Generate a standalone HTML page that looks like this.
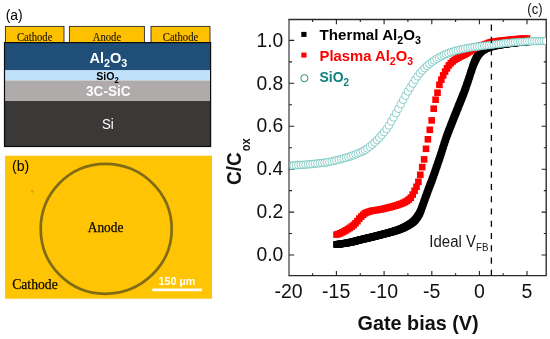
<!DOCTYPE html>
<html lang="en"><head><meta charset="utf-8"><title>MOS capacitor C-V figure</title>
<style>html,body{margin:0;padding:0;background:#fff}body{width:550px;height:339px;overflow:hidden}svg{display:block}.sans{font-family:"Liberation Sans",sans-serif}.serif{font-family:"Liberation Serif",serif}</style></head><body>
<svg width="550" height="339" viewBox="0 0 550 339">
<rect width="550" height="339" fill="#fff"/>
<g id="panel-a">
<text class="sans" x="5.7" y="20.2" font-size="14.6" fill="#000" textLength="17" lengthAdjust="spacingAndGlyphs">(a)</text>
<rect x="5.4" y="26.4" width="58.6" height="16.4" fill="#FFC000" stroke="#2a2a2a" stroke-width="0.9"/>
<text class="serif" x="17.0" y="40.6" font-size="11.6" fill="#1f1800" stroke="#1f1800" stroke-width="0.15" textLength="35.4" lengthAdjust="spacingAndGlyphs">Cathode</text>
<rect x="69.4" y="26.4" width="75.0" height="16.4" fill="#FFC000" stroke="#2a2a2a" stroke-width="0.9"/>
<text class="serif" x="92.8" y="40.6" font-size="11.6" fill="#1f1800" stroke="#1f1800" stroke-width="0.15" textLength="28.3" lengthAdjust="spacingAndGlyphs">Anode</text>
<rect x="151" y="26.4" width="59.0" height="16.4" fill="#FFC000" stroke="#2a2a2a" stroke-width="0.9"/>
<text class="serif" x="162.8" y="40.6" font-size="11.6" fill="#1f1800" stroke="#1f1800" stroke-width="0.15" textLength="35.4" lengthAdjust="spacingAndGlyphs">Cathode</text>
<rect x="4.4" y="42.6" width="206.2" height="27.8" fill="#1F4E79"/>
<rect x="4.4" y="70.3" width="206.2" height="10.2" fill="#C0E1FA"/>
<rect x="4.4" y="80.5" width="206.2" height="21" fill="#AFABAB"/>
<rect x="4.4" y="101" width="206.2" height="45.5" fill="#3B3838"/>
<rect x="4.5" y="42.6" width="206.1" height="103.9" fill="none" stroke="#0c0c0c" stroke-width="1.2"/>
<text class="sans" x="89.4" y="63.3" font-size="14.6" font-weight="bold" fill="#fff" textLength="37.8" lengthAdjust="spacingAndGlyphs">Al<tspan font-size="10.7" dy="4.1">2</tspan><tspan dy="-4.1">O</tspan><tspan font-size="10.7" dy="4.1">3</tspan></text>
<text class="sans" x="96.2" y="79.7" font-size="11.2" font-weight="bold" fill="#000" textLength="22.6" lengthAdjust="spacingAndGlyphs">SiO<tspan font-size="8.2" dy="3">2</tspan></text>
<text class="sans" x="86" y="96.3" font-size="15.2" font-weight="bold" fill="#fbfbfb" textLength="44.6" lengthAdjust="spacingAndGlyphs">3C-SiC</text>
<text class="sans" x="102" y="129.1" font-size="14.8" fill="#fff" textLength="11.8" lengthAdjust="spacingAndGlyphs">Si</text>
</g>
<g id="panel-b">
<rect x="5.1" y="155.7" width="206.9" height="143" fill="#FFC403"/>
<circle cx="32.4" cy="191.4" r="1.3" fill="#b58a10" opacity="0.55"/><path d="M40.7 229A64.6 65.1 0 0 1 105.3 163.9A66.4 65.1 0 0 1 171.7 229A66.8 64.8 0 0 1 104.9 293.8A64.2 64.8 0 0 1 40.7 229Z" fill="none" stroke="#806c14" stroke-width="2.7"/>
<text class="sans" x="12.1" y="170.6" font-size="14.6" fill="#000" textLength="17.2" lengthAdjust="spacingAndGlyphs">(b)</text>
<text class="serif" x="87.8" y="232.1" font-size="13.9" fill="#0a0800" stroke="#0a0800" stroke-width="0.25" textLength="35.6" lengthAdjust="spacingAndGlyphs">Anode</text>
<text class="serif" x="12.2" y="288.8" font-size="14" fill="#0a0800" stroke="#0a0800" stroke-width="0.25" textLength="45.5" lengthAdjust="spacingAndGlyphs">Cathode</text>
<rect x="152.3" y="288.5" width="49.6" height="2.7" fill="#fff"/>
<text class="sans" x="158.6" y="284.5" font-size="10.6" font-weight="bold" fill="#fff" textLength="36.6" lengthAdjust="spacingAndGlyphs">150 µm</text>
</g>
<g id="panel-c">
<text class="sans" x="527.3" y="13.5" font-size="14.4" fill="#111" textLength="15.2" lengthAdjust="spacingAndGlyphs">(c)</text>
<path d="M288.4 19.5H546.9M288.4 275.6H546.9M546.2 19.5V275.6" fill="none" stroke="#2a2a2a" stroke-width="1.35"/><path d="M289 19.5V275.6" fill="none" stroke="#3a3a3a" stroke-width="1.2"/>
<path d="M312.6 275.6v-2.4M312.6 19.6v2.4M336.4 275.6v-4.6M336.4 19.6v4.6M360.3 275.6v-2.4M360.3 19.6v2.4M384.1 275.6v-4.6M384.1 19.6v4.6M407.9 275.6v-2.4M407.9 19.6v2.4M431.8 275.6v-4.6M431.8 19.6v4.6M455.6 275.6v-2.4M455.6 19.6v2.4M479.4 275.6v-4.6M479.4 19.6v4.6M503.2 275.6v-2.4M503.2 19.6v2.4M527.0 275.6v-4.6M527.0 19.6v4.6M289.1 255.0h5.1M546.2 255.0h-4.6M289.1 233.5h2.9M546.2 233.5h-2.4M289.1 212.1h5.1M546.2 212.1h-4.6M289.1 190.6h2.9M546.2 190.6h-2.4M289.1 169.2h5.1M546.2 169.2h-4.6M289.1 147.7h2.9M546.2 147.7h-2.4M289.1 126.2h5.1M546.2 126.2h-4.6M289.1 104.8h2.9M546.2 104.8h-2.4M289.1 83.3h5.1M546.2 83.3h-4.6M289.1 61.9h2.9M546.2 61.9h-2.4M289.1 40.4h5.1M546.2 40.4h-4.6" stroke="#222" stroke-width="1.1" fill="none"/>
<clipPath id="plotclip"><rect x="289.9" y="20" width="256" height="255.4"/></clipPath>
<g clip-path="url(#plotclip)">
<g fill="#000">
<rect x="333.2" y="241.1" width="6.6" height="6.6"/>
<rect x="333.6" y="241.1" width="6.6" height="6.6"/>
<rect x="334.1" y="241.0" width="6.6" height="6.6"/>
<rect x="334.6" y="241.0" width="6.6" height="6.6"/>
<rect x="335.1" y="240.9" width="6.6" height="6.6"/>
<rect x="335.5" y="240.9" width="6.6" height="6.6"/>
<rect x="336.0" y="240.8" width="6.6" height="6.6"/>
<rect x="336.5" y="240.8" width="6.6" height="6.6"/>
<rect x="337.0" y="240.7" width="6.6" height="6.6"/>
<rect x="337.4" y="240.6" width="6.6" height="6.6"/>
<rect x="337.9" y="240.6" width="6.6" height="6.6"/>
<rect x="338.4" y="240.5" width="6.6" height="6.6"/>
<rect x="338.9" y="240.4" width="6.6" height="6.6"/>
<rect x="339.3" y="240.4" width="6.6" height="6.6"/>
<rect x="339.8" y="240.3" width="6.6" height="6.6"/>
<rect x="340.3" y="240.2" width="6.6" height="6.6"/>
<rect x="340.8" y="240.2" width="6.6" height="6.6"/>
<rect x="341.3" y="240.1" width="6.6" height="6.6"/>
<rect x="341.7" y="240.0" width="6.6" height="6.6"/>
<rect x="342.2" y="239.9" width="6.6" height="6.6"/>
<rect x="342.7" y="239.8" width="6.6" height="6.6"/>
<rect x="343.2" y="239.8" width="6.6" height="6.6"/>
<rect x="343.6" y="239.7" width="6.6" height="6.6"/>
<rect x="344.1" y="239.6" width="6.6" height="6.6"/>
<rect x="344.6" y="239.5" width="6.6" height="6.6"/>
<rect x="345.1" y="239.4" width="6.6" height="6.6"/>
<rect x="345.5" y="239.3" width="6.6" height="6.6"/>
<rect x="346.0" y="239.3" width="6.6" height="6.6"/>
<rect x="346.5" y="239.2" width="6.6" height="6.6"/>
<rect x="347.0" y="239.0" width="6.6" height="6.6"/>
<rect x="347.4" y="238.9" width="6.6" height="6.6"/>
<rect x="347.9" y="238.8" width="6.6" height="6.6"/>
<rect x="348.4" y="238.7" width="6.6" height="6.6"/>
<rect x="348.9" y="238.6" width="6.6" height="6.6"/>
<rect x="349.4" y="238.5" width="6.6" height="6.6"/>
<rect x="349.8" y="238.4" width="6.6" height="6.6"/>
<rect x="350.3" y="238.3" width="6.6" height="6.6"/>
<rect x="350.8" y="238.1" width="6.6" height="6.6"/>
<rect x="351.3" y="238.0" width="6.6" height="6.6"/>
<rect x="351.7" y="237.9" width="6.6" height="6.6"/>
<rect x="352.2" y="237.8" width="6.6" height="6.6"/>
<rect x="352.7" y="237.6" width="6.6" height="6.6"/>
<rect x="353.2" y="237.5" width="6.6" height="6.6"/>
<rect x="353.6" y="237.4" width="6.6" height="6.6"/>
<rect x="354.1" y="237.3" width="6.6" height="6.6"/>
<rect x="354.6" y="237.1" width="6.6" height="6.6"/>
<rect x="355.1" y="237.0" width="6.6" height="6.6"/>
<rect x="355.5" y="236.9" width="6.6" height="6.6"/>
<rect x="356.0" y="236.8" width="6.6" height="6.6"/>
<rect x="356.5" y="236.6" width="6.6" height="6.6"/>
<rect x="357.0" y="236.5" width="6.6" height="6.6"/>
<rect x="357.5" y="236.4" width="6.6" height="6.6"/>
<rect x="357.9" y="236.3" width="6.6" height="6.6"/>
<rect x="358.4" y="236.2" width="6.6" height="6.6"/>
<rect x="358.9" y="236.1" width="6.6" height="6.6"/>
<rect x="359.4" y="236.0" width="6.6" height="6.6"/>
<rect x="359.8" y="235.8" width="6.6" height="6.6"/>
<rect x="360.3" y="235.7" width="6.6" height="6.6"/>
<rect x="360.8" y="235.6" width="6.6" height="6.6"/>
<rect x="361.3" y="235.5" width="6.6" height="6.6"/>
<rect x="361.7" y="235.4" width="6.6" height="6.6"/>
<rect x="362.2" y="235.3" width="6.6" height="6.6"/>
<rect x="362.7" y="235.2" width="6.6" height="6.6"/>
<rect x="363.2" y="235.1" width="6.6" height="6.6"/>
<rect x="363.6" y="234.9" width="6.6" height="6.6"/>
<rect x="364.1" y="234.8" width="6.6" height="6.6"/>
<rect x="364.6" y="234.7" width="6.6" height="6.6"/>
<rect x="365.1" y="234.6" width="6.6" height="6.6"/>
<rect x="365.6" y="234.5" width="6.6" height="6.6"/>
<rect x="366.0" y="234.4" width="6.6" height="6.6"/>
<rect x="366.5" y="234.3" width="6.6" height="6.6"/>
<rect x="367.0" y="234.1" width="6.6" height="6.6"/>
<rect x="367.5" y="234.0" width="6.6" height="6.6"/>
<rect x="367.9" y="233.9" width="6.6" height="6.6"/>
<rect x="368.4" y="233.8" width="6.6" height="6.6"/>
<rect x="368.9" y="233.7" width="6.6" height="6.6"/>
<rect x="369.4" y="233.6" width="6.6" height="6.6"/>
<rect x="369.8" y="233.4" width="6.6" height="6.6"/>
<rect x="370.3" y="233.3" width="6.6" height="6.6"/>
<rect x="370.8" y="233.2" width="6.6" height="6.6"/>
<rect x="371.3" y="233.1" width="6.6" height="6.6"/>
<rect x="371.7" y="233.0" width="6.6" height="6.6"/>
<rect x="372.2" y="232.9" width="6.6" height="6.6"/>
<rect x="372.7" y="232.7" width="6.6" height="6.6"/>
<rect x="373.2" y="232.6" width="6.6" height="6.6"/>
<rect x="373.7" y="232.5" width="6.6" height="6.6"/>
<rect x="374.1" y="232.4" width="6.6" height="6.6"/>
<rect x="374.6" y="232.2" width="6.6" height="6.6"/>
<rect x="375.1" y="232.1" width="6.6" height="6.6"/>
<rect x="375.6" y="232.0" width="6.6" height="6.6"/>
<rect x="376.0" y="231.9" width="6.6" height="6.6"/>
<rect x="376.5" y="231.8" width="6.6" height="6.6"/>
<rect x="377.0" y="231.6" width="6.6" height="6.6"/>
<rect x="377.5" y="231.5" width="6.6" height="6.6"/>
<rect x="377.9" y="231.4" width="6.6" height="6.6"/>
<rect x="378.4" y="231.2" width="6.6" height="6.6"/>
<rect x="378.9" y="231.1" width="6.6" height="6.6"/>
<rect x="379.4" y="231.0" width="6.6" height="6.6"/>
<rect x="379.8" y="230.9" width="6.6" height="6.6"/>
<rect x="380.3" y="230.8" width="6.6" height="6.6"/>
<rect x="380.8" y="230.6" width="6.6" height="6.6"/>
<rect x="381.3" y="230.5" width="6.6" height="6.6"/>
<rect x="381.8" y="230.4" width="6.6" height="6.6"/>
<rect x="382.2" y="230.3" width="6.6" height="6.6"/>
<rect x="382.7" y="230.1" width="6.6" height="6.6"/>
<rect x="383.2" y="230.0" width="6.6" height="6.6"/>
<rect x="383.7" y="229.9" width="6.6" height="6.6"/>
<rect x="384.1" y="229.8" width="6.6" height="6.6"/>
<rect x="384.6" y="229.6" width="6.6" height="6.6"/>
<rect x="385.1" y="229.5" width="6.6" height="6.6"/>
<rect x="385.6" y="229.4" width="6.6" height="6.6"/>
<rect x="386.0" y="229.3" width="6.6" height="6.6"/>
<rect x="386.5" y="229.1" width="6.6" height="6.6"/>
<rect x="387.0" y="229.0" width="6.6" height="6.6"/>
<rect x="387.5" y="228.9" width="6.6" height="6.6"/>
<rect x="387.9" y="228.7" width="6.6" height="6.6"/>
<rect x="388.4" y="228.6" width="6.6" height="6.6"/>
<rect x="388.9" y="228.5" width="6.6" height="6.6"/>
<rect x="389.4" y="228.3" width="6.6" height="6.6"/>
<rect x="389.9" y="228.2" width="6.6" height="6.6"/>
<rect x="390.3" y="228.0" width="6.6" height="6.6"/>
<rect x="390.8" y="227.9" width="6.6" height="6.6"/>
<rect x="391.3" y="227.7" width="6.6" height="6.6"/>
<rect x="391.8" y="227.6" width="6.6" height="6.6"/>
<rect x="392.2" y="227.4" width="6.6" height="6.6"/>
<rect x="392.7" y="227.3" width="6.6" height="6.6"/>
<rect x="393.2" y="227.1" width="6.6" height="6.6"/>
<rect x="393.7" y="227.0" width="6.6" height="6.6"/>
<rect x="394.1" y="226.8" width="6.6" height="6.6"/>
<rect x="394.6" y="226.7" width="6.6" height="6.6"/>
<rect x="395.1" y="226.5" width="6.6" height="6.6"/>
<rect x="395.6" y="226.3" width="6.6" height="6.6"/>
<rect x="396.0" y="226.1" width="6.6" height="6.6"/>
<rect x="396.5" y="226.0" width="6.6" height="6.6"/>
<rect x="397.0" y="225.8" width="6.6" height="6.6"/>
<rect x="397.5" y="225.6" width="6.6" height="6.6"/>
<rect x="398.0" y="225.4" width="6.6" height="6.6"/>
<rect x="398.4" y="225.2" width="6.6" height="6.6"/>
<rect x="398.9" y="225.0" width="6.6" height="6.6"/>
<rect x="399.4" y="224.8" width="6.6" height="6.6"/>
<rect x="399.9" y="224.6" width="6.6" height="6.6"/>
<rect x="400.3" y="224.3" width="6.6" height="6.6"/>
<rect x="400.8" y="224.1" width="6.6" height="6.6"/>
<rect x="401.3" y="223.9" width="6.6" height="6.6"/>
<rect x="401.8" y="223.6" width="6.6" height="6.6"/>
<rect x="402.2" y="223.4" width="6.6" height="6.6"/>
<rect x="402.7" y="223.1" width="6.6" height="6.6"/>
<rect x="403.2" y="222.9" width="6.6" height="6.6"/>
<rect x="403.7" y="222.6" width="6.6" height="6.6"/>
<rect x="404.1" y="222.3" width="6.6" height="6.6"/>
<rect x="404.6" y="222.1" width="6.6" height="6.6"/>
<rect x="405.1" y="221.8" width="6.6" height="6.6"/>
<rect x="405.6" y="221.5" width="6.6" height="6.6"/>
<rect x="406.1" y="221.2" width="6.6" height="6.6"/>
<rect x="406.5" y="220.9" width="6.6" height="6.6"/>
<rect x="407.0" y="220.6" width="6.6" height="6.6"/>
<rect x="407.5" y="220.3" width="6.6" height="6.6"/>
<rect x="408.0" y="220.0" width="6.6" height="6.6"/>
<rect x="408.4" y="219.6" width="6.6" height="6.6"/>
<rect x="408.9" y="219.3" width="6.6" height="6.6"/>
<rect x="409.4" y="218.9" width="6.6" height="6.6"/>
<rect x="409.9" y="218.5" width="6.6" height="6.6"/>
<rect x="410.3" y="218.1" width="6.6" height="6.6"/>
<rect x="410.8" y="217.7" width="6.6" height="6.6"/>
<rect x="411.3" y="217.2" width="6.6" height="6.6"/>
<rect x="411.8" y="216.7" width="6.6" height="6.6"/>
<rect x="412.2" y="216.1" width="6.6" height="6.6"/>
<rect x="412.7" y="215.5" width="6.6" height="6.6"/>
<rect x="413.2" y="214.8" width="6.6" height="6.6"/>
<rect x="413.7" y="214.2" width="6.6" height="6.6"/>
<rect x="414.2" y="213.5" width="6.6" height="6.6"/>
<rect x="414.6" y="212.8" width="6.6" height="6.6"/>
<rect x="415.1" y="212.0" width="6.6" height="6.6"/>
<rect x="415.6" y="211.3" width="6.6" height="6.6"/>
<rect x="416.1" y="210.4" width="6.6" height="6.6"/>
<rect x="416.5" y="209.5" width="6.6" height="6.6"/>
<rect x="417.0" y="208.5" width="6.6" height="6.6"/>
<rect x="417.5" y="207.3" width="6.6" height="6.6"/>
<rect x="418.0" y="206.0" width="6.6" height="6.6"/>
<rect x="418.4" y="204.7" width="6.6" height="6.6"/>
<rect x="418.9" y="203.4" width="6.6" height="6.6"/>
<rect x="419.4" y="202.1" width="6.6" height="6.6"/>
<rect x="419.9" y="200.8" width="6.6" height="6.6"/>
<rect x="420.3" y="199.4" width="6.6" height="6.6"/>
<rect x="420.8" y="198.0" width="6.6" height="6.6"/>
<rect x="421.3" y="196.7" width="6.6" height="6.6"/>
<rect x="421.8" y="195.3" width="6.6" height="6.6"/>
<rect x="422.3" y="194.0" width="6.6" height="6.6"/>
<rect x="422.7" y="192.7" width="6.6" height="6.6"/>
<rect x="423.2" y="191.3" width="6.6" height="6.6"/>
<rect x="423.7" y="190.0" width="6.6" height="6.6"/>
<rect x="424.2" y="188.7" width="6.6" height="6.6"/>
<rect x="424.6" y="187.4" width="6.6" height="6.6"/>
<rect x="425.1" y="186.1" width="6.6" height="6.6"/>
<rect x="425.6" y="184.8" width="6.6" height="6.6"/>
<rect x="426.1" y="183.6" width="6.6" height="6.6"/>
<rect x="426.5" y="182.3" width="6.6" height="6.6"/>
<rect x="427.0" y="181.1" width="6.6" height="6.6"/>
<rect x="427.5" y="179.9" width="6.6" height="6.6"/>
<rect x="428.0" y="178.6" width="6.6" height="6.6"/>
<rect x="428.5" y="177.4" width="6.6" height="6.6"/>
<rect x="428.9" y="176.1" width="6.6" height="6.6"/>
<rect x="429.4" y="174.8" width="6.6" height="6.6"/>
<rect x="429.9" y="173.5" width="6.6" height="6.6"/>
<rect x="430.4" y="172.1" width="6.6" height="6.6"/>
<rect x="430.8" y="170.8" width="6.6" height="6.6"/>
<rect x="431.3" y="169.5" width="6.6" height="6.6"/>
<rect x="431.8" y="168.1" width="6.6" height="6.6"/>
<rect x="432.3" y="166.7" width="6.6" height="6.6"/>
<rect x="432.7" y="165.3" width="6.6" height="6.6"/>
<rect x="433.2" y="163.9" width="6.6" height="6.6"/>
<rect x="433.7" y="162.5" width="6.6" height="6.6"/>
<rect x="434.2" y="161.1" width="6.6" height="6.6"/>
<rect x="434.6" y="159.7" width="6.6" height="6.6"/>
<rect x="435.1" y="158.3" width="6.6" height="6.6"/>
<rect x="435.6" y="156.9" width="6.6" height="6.6"/>
<rect x="436.1" y="155.5" width="6.6" height="6.6"/>
<rect x="436.6" y="154.0" width="6.6" height="6.6"/>
<rect x="437.0" y="152.6" width="6.6" height="6.6"/>
<rect x="437.5" y="151.2" width="6.6" height="6.6"/>
<rect x="438.0" y="149.7" width="6.6" height="6.6"/>
<rect x="438.5" y="148.2" width="6.6" height="6.6"/>
<rect x="438.9" y="146.7" width="6.6" height="6.6"/>
<rect x="439.4" y="145.2" width="6.6" height="6.6"/>
<rect x="439.9" y="143.7" width="6.6" height="6.6"/>
<rect x="440.4" y="142.2" width="6.6" height="6.6"/>
<rect x="440.8" y="140.7" width="6.6" height="6.6"/>
<rect x="441.3" y="139.3" width="6.6" height="6.6"/>
<rect x="441.8" y="137.8" width="6.6" height="6.6"/>
<rect x="442.3" y="136.4" width="6.6" height="6.6"/>
<rect x="442.7" y="134.9" width="6.6" height="6.6"/>
<rect x="443.2" y="133.6" width="6.6" height="6.6"/>
<rect x="443.7" y="132.2" width="6.6" height="6.6"/>
<rect x="444.2" y="130.9" width="6.6" height="6.6"/>
<rect x="444.7" y="129.6" width="6.6" height="6.6"/>
<rect x="445.1" y="128.3" width="6.6" height="6.6"/>
<rect x="445.6" y="127.1" width="6.6" height="6.6"/>
<rect x="446.1" y="125.9" width="6.6" height="6.6"/>
<rect x="446.6" y="124.6" width="6.6" height="6.6"/>
<rect x="447.0" y="123.4" width="6.6" height="6.6"/>
<rect x="447.5" y="122.2" width="6.6" height="6.6"/>
<rect x="448.0" y="121.1" width="6.6" height="6.6"/>
<rect x="448.5" y="119.9" width="6.6" height="6.6"/>
<rect x="448.9" y="118.7" width="6.6" height="6.6"/>
<rect x="449.4" y="117.5" width="6.6" height="6.6"/>
<rect x="449.9" y="116.3" width="6.6" height="6.6"/>
<rect x="450.4" y="115.1" width="6.6" height="6.6"/>
<rect x="450.8" y="113.9" width="6.6" height="6.6"/>
<rect x="451.3" y="112.7" width="6.6" height="6.6"/>
<rect x="451.8" y="111.5" width="6.6" height="6.6"/>
<rect x="452.3" y="110.3" width="6.6" height="6.6"/>
<rect x="452.8" y="109.1" width="6.6" height="6.6"/>
<rect x="453.2" y="107.9" width="6.6" height="6.6"/>
<rect x="453.7" y="106.7" width="6.6" height="6.6"/>
<rect x="454.2" y="105.5" width="6.6" height="6.6"/>
<rect x="454.7" y="104.3" width="6.6" height="6.6"/>
<rect x="455.1" y="103.1" width="6.6" height="6.6"/>
<rect x="455.6" y="101.9" width="6.6" height="6.6"/>
<rect x="456.1" y="100.7" width="6.6" height="6.6"/>
<rect x="456.6" y="99.5" width="6.6" height="6.6"/>
<rect x="457.0" y="98.4" width="6.6" height="6.6"/>
<rect x="457.5" y="97.2" width="6.6" height="6.6"/>
<rect x="458.0" y="96.0" width="6.6" height="6.6"/>
<rect x="458.5" y="94.9" width="6.6" height="6.6"/>
<rect x="458.9" y="93.7" width="6.6" height="6.6"/>
<rect x="459.4" y="92.5" width="6.6" height="6.6"/>
<rect x="459.9" y="91.3" width="6.6" height="6.6"/>
<rect x="460.4" y="90.1" width="6.6" height="6.6"/>
<rect x="460.9" y="88.8" width="6.6" height="6.6"/>
<rect x="461.3" y="87.5" width="6.6" height="6.6"/>
<rect x="461.8" y="86.2" width="6.6" height="6.6"/>
<rect x="462.3" y="84.9" width="6.6" height="6.6"/>
<rect x="462.8" y="83.5" width="6.6" height="6.6"/>
<rect x="463.2" y="82.1" width="6.6" height="6.6"/>
<rect x="463.7" y="80.7" width="6.6" height="6.6"/>
<rect x="464.2" y="79.3" width="6.6" height="6.6"/>
<rect x="464.7" y="77.9" width="6.6" height="6.6"/>
<rect x="465.1" y="76.5" width="6.6" height="6.6"/>
<rect x="465.6" y="75.0" width="6.6" height="6.6"/>
<rect x="466.1" y="73.6" width="6.6" height="6.6"/>
<rect x="466.6" y="72.1" width="6.6" height="6.6"/>
<rect x="467.0" y="70.6" width="6.6" height="6.6"/>
<rect x="467.5" y="69.1" width="6.6" height="6.6"/>
<rect x="468.0" y="67.7" width="6.6" height="6.6"/>
<rect x="468.5" y="66.3" width="6.6" height="6.6"/>
<rect x="469.0" y="64.8" width="6.6" height="6.6"/>
<rect x="469.4" y="63.4" width="6.6" height="6.6"/>
<rect x="469.9" y="62.0" width="6.6" height="6.6"/>
<rect x="470.4" y="60.8" width="6.6" height="6.6"/>
<rect x="470.9" y="59.6" width="6.6" height="6.6"/>
<rect x="471.3" y="58.5" width="6.6" height="6.6"/>
<rect x="471.8" y="57.4" width="6.6" height="6.6"/>
<rect x="472.3" y="56.4" width="6.6" height="6.6"/>
<rect x="472.8" y="55.5" width="6.6" height="6.6"/>
<rect x="473.2" y="54.5" width="6.6" height="6.6"/>
<rect x="473.7" y="53.6" width="6.6" height="6.6"/>
<rect x="474.2" y="52.7" width="6.6" height="6.6"/>
<rect x="474.7" y="51.9" width="6.6" height="6.6"/>
<rect x="475.1" y="51.2" width="6.6" height="6.6"/>
<rect x="475.6" y="50.5" width="6.6" height="6.6"/>
<rect x="476.1" y="50.0" width="6.6" height="6.6"/>
<rect x="476.6" y="49.4" width="6.6" height="6.6"/>
<rect x="477.1" y="48.9" width="6.6" height="6.6"/>
<rect x="477.5" y="48.5" width="6.6" height="6.6"/>
<rect x="478.0" y="48.0" width="6.6" height="6.6"/>
<rect x="478.5" y="47.7" width="6.6" height="6.6"/>
<rect x="479.0" y="47.3" width="6.6" height="6.6"/>
<rect x="479.4" y="47.0" width="6.6" height="6.6"/>
<rect x="479.9" y="46.7" width="6.6" height="6.6"/>
<rect x="480.4" y="46.4" width="6.6" height="6.6"/>
<rect x="480.9" y="46.1" width="6.6" height="6.6"/>
<rect x="481.3" y="45.9" width="6.6" height="6.6"/>
<rect x="481.8" y="45.6" width="6.6" height="6.6"/>
<rect x="482.3" y="45.4" width="6.6" height="6.6"/>
<rect x="482.8" y="45.2" width="6.6" height="6.6"/>
<rect x="483.2" y="45.0" width="6.6" height="6.6"/>
<rect x="483.7" y="44.8" width="6.6" height="6.6"/>
<rect x="484.2" y="44.6" width="6.6" height="6.6"/>
<rect x="484.7" y="44.4" width="6.6" height="6.6"/>
<rect x="485.2" y="44.2" width="6.6" height="6.6"/>
<rect x="485.6" y="44.0" width="6.6" height="6.6"/>
<rect x="486.1" y="43.9" width="6.6" height="6.6"/>
<rect x="486.6" y="43.7" width="6.6" height="6.6"/>
<rect x="487.1" y="43.6" width="6.6" height="6.6"/>
<rect x="487.5" y="43.5" width="6.6" height="6.6"/>
<rect x="488.0" y="43.4" width="6.6" height="6.6"/>
<rect x="488.5" y="43.2" width="6.6" height="6.6"/>
<rect x="489.0" y="43.1" width="6.6" height="6.6"/>
<rect x="489.4" y="43.0" width="6.6" height="6.6"/>
<rect x="489.9" y="42.9" width="6.6" height="6.6"/>
<rect x="490.4" y="42.8" width="6.6" height="6.6"/>
<rect x="490.9" y="42.7" width="6.6" height="6.6"/>
<rect x="491.3" y="42.6" width="6.6" height="6.6"/>
<rect x="491.8" y="42.5" width="6.6" height="6.6"/>
<rect x="492.3" y="42.5" width="6.6" height="6.6"/>
<rect x="492.8" y="42.4" width="6.6" height="6.6"/>
<rect x="493.3" y="42.3" width="6.6" height="6.6"/>
<rect x="493.7" y="42.2" width="6.6" height="6.6"/>
<rect x="494.2" y="42.1" width="6.6" height="6.6"/>
<rect x="494.7" y="42.0" width="6.6" height="6.6"/>
<rect x="495.2" y="41.9" width="6.6" height="6.6"/>
<rect x="495.6" y="41.9" width="6.6" height="6.6"/>
<rect x="496.1" y="41.8" width="6.6" height="6.6"/>
<rect x="496.6" y="41.7" width="6.6" height="6.6"/>
<rect x="497.1" y="41.6" width="6.6" height="6.6"/>
<rect x="497.5" y="41.5" width="6.6" height="6.6"/>
<rect x="498.0" y="41.5" width="6.6" height="6.6"/>
<rect x="498.5" y="41.4" width="6.6" height="6.6"/>
<rect x="499.0" y="41.3" width="6.6" height="6.6"/>
<rect x="499.4" y="41.2" width="6.6" height="6.6"/>
<rect x="499.9" y="41.2" width="6.6" height="6.6"/>
<rect x="500.4" y="41.1" width="6.6" height="6.6"/>
<rect x="500.9" y="41.0" width="6.6" height="6.6"/>
<rect x="501.4" y="40.9" width="6.6" height="6.6"/>
<rect x="501.8" y="40.9" width="6.6" height="6.6"/>
<rect x="502.3" y="40.8" width="6.6" height="6.6"/>
<rect x="502.8" y="40.7" width="6.6" height="6.6"/>
<rect x="503.3" y="40.7" width="6.6" height="6.6"/>
<rect x="503.7" y="40.6" width="6.6" height="6.6"/>
<rect x="504.2" y="40.6" width="6.6" height="6.6"/>
<rect x="504.7" y="40.5" width="6.6" height="6.6"/>
<rect x="505.2" y="40.4" width="6.6" height="6.6"/>
<rect x="505.6" y="40.4" width="6.6" height="6.6"/>
<rect x="506.1" y="40.3" width="6.6" height="6.6"/>
<rect x="506.6" y="40.3" width="6.6" height="6.6"/>
<rect x="507.1" y="40.2" width="6.6" height="6.6"/>
<rect x="507.5" y="40.2" width="6.6" height="6.6"/>
<rect x="508.0" y="40.1" width="6.6" height="6.6"/>
<rect x="508.5" y="40.0" width="6.6" height="6.6"/>
<rect x="509.0" y="40.0" width="6.6" height="6.6"/>
<rect x="509.5" y="39.9" width="6.6" height="6.6"/>
<rect x="509.9" y="39.9" width="6.6" height="6.6"/>
<rect x="510.4" y="39.8" width="6.6" height="6.6"/>
<rect x="510.9" y="39.8" width="6.6" height="6.6"/>
<rect x="511.4" y="39.7" width="6.6" height="6.6"/>
<rect x="511.8" y="39.6" width="6.6" height="6.6"/>
<rect x="512.3" y="39.6" width="6.6" height="6.6"/>
<rect x="512.8" y="39.5" width="6.6" height="6.6"/>
<rect x="513.3" y="39.5" width="6.6" height="6.6"/>
<rect x="513.7" y="39.4" width="6.6" height="6.6"/>
<rect x="514.2" y="39.4" width="6.6" height="6.6"/>
<rect x="514.7" y="39.3" width="6.6" height="6.6"/>
<rect x="515.2" y="39.3" width="6.6" height="6.6"/>
<rect x="515.6" y="39.2" width="6.6" height="6.6"/>
<rect x="516.1" y="39.2" width="6.6" height="6.6"/>
<rect x="516.6" y="39.1" width="6.6" height="6.6"/>
<rect x="517.1" y="39.1" width="6.6" height="6.6"/>
<rect x="517.6" y="39.0" width="6.6" height="6.6"/>
<rect x="518.0" y="39.0" width="6.6" height="6.6"/>
<rect x="518.5" y="39.0" width="6.6" height="6.6"/>
<rect x="519.0" y="38.9" width="6.6" height="6.6"/>
<rect x="519.5" y="38.9" width="6.6" height="6.6"/>
<rect x="519.9" y="38.8" width="6.6" height="6.6"/>
<rect x="520.4" y="38.8" width="6.6" height="6.6"/>
<rect x="520.9" y="38.7" width="6.6" height="6.6"/>
<rect x="521.4" y="38.7" width="6.6" height="6.6"/>
<rect x="521.8" y="38.7" width="6.6" height="6.6"/>
<rect x="522.3" y="38.6" width="6.6" height="6.6"/>
<rect x="522.8" y="38.6" width="6.6" height="6.6"/>
<rect x="523.3" y="38.5" width="6.6" height="6.6"/>
<rect x="523.8" y="38.5" width="6.6" height="6.6"/>
</g><g fill="#FF0000">
<rect x="333.2" y="231.3" width="6.6" height="6.6"/>
<rect x="335.1" y="230.7" width="6.6" height="6.6"/>
<rect x="337.0" y="230.0" width="6.6" height="6.6"/>
<rect x="338.9" y="229.1" width="6.6" height="6.6"/>
<rect x="340.8" y="228.1" width="6.6" height="6.6"/>
<rect x="342.7" y="227.0" width="6.6" height="6.6"/>
<rect x="344.6" y="225.8" width="6.6" height="6.6"/>
<rect x="346.5" y="224.6" width="6.6" height="6.6"/>
<rect x="348.4" y="223.3" width="6.6" height="6.6"/>
<rect x="350.3" y="221.8" width="6.6" height="6.6"/>
<rect x="352.2" y="220.0" width="6.6" height="6.6"/>
<rect x="354.1" y="217.8" width="6.6" height="6.6"/>
<rect x="356.0" y="215.3" width="6.6" height="6.6"/>
<rect x="357.9" y="213.3" width="6.6" height="6.6"/>
<rect x="359.8" y="211.5" width="6.6" height="6.6"/>
<rect x="361.7" y="210.0" width="6.6" height="6.6"/>
<rect x="363.6" y="209.1" width="6.6" height="6.6"/>
<rect x="365.6" y="208.4" width="6.6" height="6.6"/>
<rect x="367.5" y="207.8" width="6.6" height="6.6"/>
<rect x="369.4" y="207.4" width="6.6" height="6.6"/>
<rect x="371.3" y="207.0" width="6.6" height="6.6"/>
<rect x="373.2" y="206.8" width="6.6" height="6.6"/>
<rect x="375.1" y="206.5" width="6.6" height="6.6"/>
<rect x="377.0" y="206.1" width="6.6" height="6.6"/>
<rect x="378.9" y="205.8" width="6.6" height="6.6"/>
<rect x="380.8" y="205.3" width="6.6" height="6.6"/>
<rect x="382.7" y="204.9" width="6.6" height="6.6"/>
<rect x="384.6" y="204.4" width="6.6" height="6.6"/>
<rect x="386.5" y="203.9" width="6.6" height="6.6"/>
<rect x="388.4" y="203.5" width="6.6" height="6.6"/>
<rect x="390.3" y="202.9" width="6.6" height="6.6"/>
<rect x="392.2" y="202.4" width="6.6" height="6.6"/>
<rect x="394.1" y="201.8" width="6.6" height="6.6"/>
<rect x="396.0" y="201.1" width="6.6" height="6.6"/>
<rect x="398.0" y="200.4" width="6.6" height="6.6"/>
<rect x="399.9" y="199.6" width="6.6" height="6.6"/>
<rect x="401.8" y="198.7" width="6.6" height="6.6"/>
<rect x="403.7" y="197.6" width="6.6" height="6.6"/>
<rect x="405.6" y="196.2" width="6.6" height="6.6"/>
<rect x="407.5" y="194.4" width="6.6" height="6.6"/>
<rect x="409.4" y="191.3" width="6.6" height="6.6"/>
<rect x="411.3" y="187.5" width="6.6" height="6.6"/>
<rect x="413.2" y="183.5" width="6.6" height="6.6"/>
<rect x="415.1" y="178.5" width="6.6" height="6.6"/>
<rect x="417.0" y="171.5" width="6.6" height="6.6"/>
<rect x="418.9" y="163.8" width="6.6" height="6.6"/>
<rect x="420.8" y="156.1" width="6.6" height="6.6"/>
<rect x="422.7" y="145.5" width="6.6" height="6.6"/>
<rect x="424.6" y="136.0" width="6.6" height="6.6"/>
<rect x="426.5" y="126.5" width="6.6" height="6.6"/>
<rect x="428.4" y="117.1" width="6.6" height="6.6"/>
<rect x="430.4" y="105.4" width="6.6" height="6.6"/>
<rect x="432.3" y="96.4" width="6.6" height="6.6"/>
<rect x="434.2" y="89.4" width="6.6" height="6.6"/>
<rect x="436.1" y="81.5" width="6.6" height="6.6"/>
<rect x="438.0" y="76.4" width="6.6" height="6.6"/>
<rect x="439.9" y="72.1" width="6.6" height="6.6"/>
<rect x="441.8" y="68.3" width="6.6" height="6.6"/>
<rect x="443.7" y="65.0" width="6.6" height="6.6"/>
<rect x="445.6" y="62.1" width="6.6" height="6.6"/>
<rect x="447.5" y="59.9" width="6.6" height="6.6"/>
<rect x="449.4" y="58.1" width="6.6" height="6.6"/>
<rect x="451.3" y="56.6" width="6.6" height="6.6"/>
<rect x="453.2" y="55.4" width="6.6" height="6.6"/>
<rect x="455.1" y="54.3" width="6.6" height="6.6"/>
<rect x="457.0" y="53.3" width="6.6" height="6.6"/>
<rect x="458.9" y="52.4" width="6.6" height="6.6"/>
<rect x="460.9" y="51.5" width="6.6" height="6.6"/>
<rect x="462.8" y="50.4" width="6.6" height="6.6"/>
<rect x="464.7" y="49.2" width="6.6" height="6.6"/>
<rect x="466.6" y="48.0" width="6.6" height="6.6"/>
<rect x="468.5" y="46.7" width="6.6" height="6.6"/>
<rect x="470.4" y="45.5" width="6.6" height="6.6"/>
<rect x="472.3" y="44.4" width="6.6" height="6.6"/>
<rect x="474.2" y="43.5" width="6.6" height="6.6"/>
<rect x="476.1" y="42.8" width="6.6" height="6.6"/>
<rect x="478.0" y="42.3" width="6.6" height="6.6"/>
<rect x="479.9" y="41.8" width="6.6" height="6.6"/>
<rect x="481.8" y="41.2" width="6.6" height="6.6"/>
<rect x="483.7" y="40.4" width="6.6" height="6.6"/>
<rect x="485.6" y="39.6" width="6.6" height="6.6"/>
<rect x="487.5" y="38.9" width="6.6" height="6.6"/>
<rect x="489.4" y="38.6" width="6.6" height="6.6"/>
<rect x="491.3" y="38.2" width="6.6" height="6.6"/>
<rect x="493.3" y="38.0" width="6.6" height="6.6"/>
<rect x="495.2" y="37.7" width="6.6" height="6.6"/>
<rect x="497.1" y="37.5" width="6.6" height="6.6"/>
<rect x="499.0" y="37.3" width="6.6" height="6.6"/>
<rect x="500.9" y="37.1" width="6.6" height="6.6"/>
<rect x="502.8" y="36.9" width="6.6" height="6.6"/>
<rect x="504.7" y="36.7" width="6.6" height="6.6"/>
<rect x="506.6" y="36.5" width="6.6" height="6.6"/>
<rect x="508.5" y="36.3" width="6.6" height="6.6"/>
<rect x="510.4" y="36.1" width="6.6" height="6.6"/>
<rect x="512.3" y="35.9" width="6.6" height="6.6"/>
<rect x="514.2" y="35.8" width="6.6" height="6.6"/>
<rect x="516.1" y="35.6" width="6.6" height="6.6"/>
<rect x="518.0" y="35.5" width="6.6" height="6.6"/>
<rect x="519.9" y="35.4" width="6.6" height="6.6"/>
<rect x="521.8" y="35.3" width="6.6" height="6.6"/>
<rect x="523.7" y="35.3" width="6.6" height="6.6"/>
</g><g fill="#fff" stroke="#2FABA2" stroke-width="0.55">
<circle cx="289.0" cy="165.8" r="3.8"/>
<circle cx="291.2" cy="165.7" r="3.8"/>
<circle cx="293.6" cy="165.5" r="3.8"/>
<circle cx="295.9" cy="165.3" r="3.8"/>
<circle cx="298.3" cy="165.1" r="3.8"/>
<circle cx="300.7" cy="165.0" r="3.8"/>
<circle cx="303.1" cy="164.8" r="3.8"/>
<circle cx="305.5" cy="164.6" r="3.8"/>
<circle cx="307.9" cy="164.4" r="3.8"/>
<circle cx="310.2" cy="164.2" r="3.8"/>
<circle cx="312.6" cy="164.0" r="3.8"/>
<circle cx="315.0" cy="163.7" r="3.8"/>
<circle cx="317.4" cy="163.5" r="3.8"/>
<circle cx="319.8" cy="163.2" r="3.8"/>
<circle cx="322.2" cy="163.0" r="3.8"/>
<circle cx="324.5" cy="162.7" r="3.8"/>
<circle cx="326.9" cy="162.3" r="3.8"/>
<circle cx="329.3" cy="161.9" r="3.8"/>
<circle cx="331.7" cy="161.4" r="3.8"/>
<circle cx="334.1" cy="160.9" r="3.8"/>
<circle cx="336.4" cy="160.3" r="3.8"/>
<circle cx="338.8" cy="159.7" r="3.8"/>
<circle cx="341.2" cy="159.1" r="3.8"/>
<circle cx="343.6" cy="158.4" r="3.8"/>
<circle cx="346.0" cy="157.7" r="3.8"/>
<circle cx="348.4" cy="157.0" r="3.8"/>
<circle cx="350.7" cy="156.2" r="3.8"/>
<circle cx="353.1" cy="155.3" r="3.8"/>
<circle cx="355.5" cy="154.4" r="3.8"/>
<circle cx="357.9" cy="153.4" r="3.8"/>
<circle cx="360.3" cy="152.4" r="3.8"/>
<circle cx="362.7" cy="151.3" r="3.8"/>
<circle cx="365.0" cy="150.0" r="3.8"/>
<circle cx="367.4" cy="148.4" r="3.8"/>
<circle cx="369.8" cy="146.6" r="3.8"/>
<circle cx="372.2" cy="144.6" r="3.8"/>
<circle cx="374.6" cy="142.4" r="3.8"/>
<circle cx="377.0" cy="140.1" r="3.8"/>
<circle cx="379.3" cy="137.7" r="3.8"/>
<circle cx="381.7" cy="135.0" r="3.8"/>
<circle cx="384.1" cy="132.2" r="3.8"/>
<circle cx="386.5" cy="129.0" r="3.8"/>
<circle cx="388.9" cy="125.4" r="3.8"/>
<circle cx="391.2" cy="121.5" r="3.8"/>
<circle cx="393.6" cy="117.4" r="3.8"/>
<circle cx="396.0" cy="113.2" r="3.8"/>
<circle cx="398.4" cy="108.8" r="3.8"/>
<circle cx="400.8" cy="104.2" r="3.8"/>
<circle cx="403.2" cy="99.9" r="3.8"/>
<circle cx="405.5" cy="95.6" r="3.8"/>
<circle cx="407.9" cy="91.5" r="3.8"/>
<circle cx="410.3" cy="87.5" r="3.8"/>
<circle cx="412.7" cy="83.6" r="3.8"/>
<circle cx="415.1" cy="79.8" r="3.8"/>
<circle cx="417.5" cy="76.3" r="3.8"/>
<circle cx="419.8" cy="73.2" r="3.8"/>
<circle cx="422.2" cy="70.5" r="3.8"/>
<circle cx="424.6" cy="68.1" r="3.8"/>
<circle cx="427.0" cy="65.9" r="3.8"/>
<circle cx="429.4" cy="63.9" r="3.8"/>
<circle cx="431.8" cy="62.1" r="3.8"/>
<circle cx="434.1" cy="60.4" r="3.8"/>
<circle cx="436.5" cy="58.9" r="3.8"/>
<circle cx="438.9" cy="57.5" r="3.8"/>
<circle cx="441.3" cy="56.2" r="3.8"/>
<circle cx="443.7" cy="55.1" r="3.8"/>
<circle cx="446.0" cy="54.0" r="3.8"/>
<circle cx="448.4" cy="53.1" r="3.8"/>
<circle cx="450.8" cy="52.2" r="3.8"/>
<circle cx="453.2" cy="51.5" r="3.8"/>
<circle cx="455.6" cy="50.8" r="3.8"/>
<circle cx="458.0" cy="50.2" r="3.8"/>
<circle cx="460.3" cy="49.6" r="3.8"/>
<circle cx="462.7" cy="49.1" r="3.8"/>
<circle cx="465.1" cy="48.6" r="3.8"/>
<circle cx="467.5" cy="48.1" r="3.8"/>
<circle cx="469.9" cy="47.7" r="3.8"/>
<circle cx="472.3" cy="47.3" r="3.8"/>
<circle cx="474.6" cy="47.0" r="3.8"/>
<circle cx="477.0" cy="46.7" r="3.8"/>
<circle cx="479.4" cy="46.4" r="3.8"/>
<circle cx="481.8" cy="46.1" r="3.8"/>
<circle cx="484.2" cy="45.8" r="3.8"/>
<circle cx="486.5" cy="45.5" r="3.8"/>
<circle cx="488.9" cy="45.2" r="3.8"/>
<circle cx="491.3" cy="44.9" r="3.8"/>
<circle cx="493.7" cy="44.6" r="3.8"/>
<circle cx="496.1" cy="44.3" r="3.8"/>
<circle cx="498.5" cy="44.0" r="3.8"/>
<circle cx="500.8" cy="43.7" r="3.8"/>
<circle cx="503.2" cy="43.4" r="3.8"/>
<circle cx="505.6" cy="43.1" r="3.8"/>
<circle cx="508.0" cy="42.9" r="3.8"/>
<circle cx="510.4" cy="42.7" r="3.8"/>
<circle cx="512.8" cy="42.4" r="3.8"/>
<circle cx="515.1" cy="42.2" r="3.8"/>
<circle cx="517.5" cy="42.0" r="3.8"/>
<circle cx="519.9" cy="41.9" r="3.8"/>
<circle cx="522.3" cy="41.8" r="3.8"/>
<circle cx="524.7" cy="41.7" r="3.8"/>
<circle cx="527.0" cy="41.5" r="3.8"/>
<circle cx="529.4" cy="41.4" r="3.8"/>
<circle cx="531.8" cy="41.3" r="3.8"/>
<circle cx="534.2" cy="41.2" r="3.8"/>
<circle cx="536.6" cy="41.2" r="3.8"/>
<circle cx="539.0" cy="41.1" r="3.8"/>
<circle cx="541.3" cy="41.0" r="3.8"/>
<circle cx="543.7" cy="41.0" r="3.8"/>
<circle cx="546.0" cy="41.0" r="3.8"/>
</g></g>
<path d="M491.4 24.6V275.6" stroke="#000" stroke-width="1.3" stroke-dasharray="6.1 6.16" fill="none"/>
<text class="sans" x="283.3" y="261.2" font-size="19.3" text-anchor="end" fill="#111">0.0</text>
<text class="sans" x="283.3" y="218.3" font-size="19.3" text-anchor="end" fill="#111">0.2</text>
<text class="sans" x="283.3" y="175.4" font-size="19.3" text-anchor="end" fill="#111">0.4</text>
<text class="sans" x="283.3" y="132.4" font-size="19.3" text-anchor="end" fill="#111">0.6</text>
<text class="sans" x="283.3" y="89.5" font-size="19.3" text-anchor="end" fill="#111">0.8</text>
<text class="sans" x="283.3" y="46.6" font-size="19.3" text-anchor="end" fill="#111">1.0</text>
<text class="sans" x="288.6" y="297.7" font-size="19.5" text-anchor="middle" fill="#111">-20</text>
<text class="sans" x="336.2" y="297.7" font-size="19.5" text-anchor="middle" fill="#111">-15</text>
<text class="sans" x="383.9" y="297.7" font-size="19.5" text-anchor="middle" fill="#111">-10</text>
<text class="sans" x="431.6" y="297.7" font-size="19.5" text-anchor="middle" fill="#111">-5</text>
<text class="sans" x="479.4" y="297.7" font-size="19.5" text-anchor="middle" fill="#111">0</text>
<text class="sans" x="527.0" y="297.7" font-size="19.5" text-anchor="middle" fill="#111">5</text>
<text class="sans" x="357.6" y="330.1" font-size="19.8" font-weight="bold" fill="#111">Gate bias (V)</text>
<text class="sans" transform="translate(240.8 184.9) rotate(-90)" font-size="19.8" font-weight="bold" fill="#111" textLength="32.6" lengthAdjust="spacingAndGlyphs">C/C</text>
<text class="sans" transform="translate(249.8 151.2) rotate(-90)" font-size="12" font-weight="bold" fill="#111" textLength="12.8" lengthAdjust="spacingAndGlyphs">ox</text>
<rect x="301.3" y="31.9" width="5.2" height="5" fill="#000"/>
<rect x="301.3" y="52.6" width="5.2" height="5" fill="#FF0000"/>
<circle cx="304.4" cy="78.2" r="3.6" fill="#fff" stroke="#1F8F8C" stroke-width="1"/>
<text class="sans" x="319.6" y="40" font-size="15.4" font-weight="bold" fill="#000" textLength="101.4" lengthAdjust="spacingAndGlyphs">Thermal Al<tspan font-size="10.9" dy="4.2">2</tspan><tspan dy="-4.2">O</tspan><tspan font-size="10.9" dy="4.2">3</tspan></text>
<text class="sans" x="319.6" y="61" font-size="15.4" font-weight="bold" fill="#FF0000" textLength="93.4" lengthAdjust="spacingAndGlyphs">Plasma Al<tspan font-size="10.9" dy="4.2">2</tspan><tspan dy="-4.2">O</tspan><tspan font-size="10.9" dy="4.2">3</tspan></text>
<text class="sans" x="319.6" y="82" font-size="15.4" font-weight="bold" fill="#0F8080" textLength="29.4" lengthAdjust="spacingAndGlyphs">SiO<tspan font-size="10.9" dy="4.2">2</tspan></text>
<text class="sans" x="429.3" y="246.5" font-size="15.8" fill="#1a1a1a" textLength="59.2" lengthAdjust="spacingAndGlyphs">Ideal V<tspan font-size="10.3" dy="4">FB</tspan></text>
</g>
</svg></body></html>
